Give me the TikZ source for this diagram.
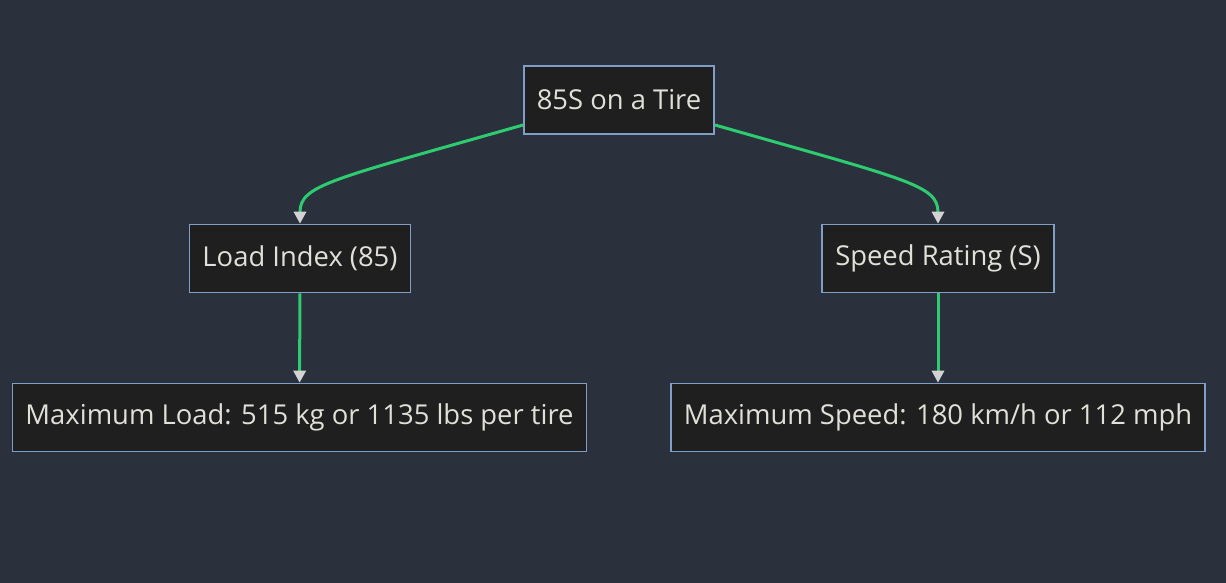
\documentclass[tikz,border=0pt]{standalone}
\usepackage{fontspec}
\setmainfont{Open Sans}
\usetikzlibrary{arrows.meta}
\definecolor{bgdark}{HTML}{2A303C}
\definecolor{boxfill}{HTML}{1F1F1F}
\definecolor{boxline}{HTML}{7F9FC6}
\definecolor{boxtext}{HTML}{E0DFD8}
\definecolor{linkgreen}{HTML}{2ECC71}
\definecolor{tipgray}{HTML}{D3D3D3}
\tikzset{
  tirebox/.style={draw=boxline, fill=boxfill, text=boxtext, line width=0.8pt,
    minimum height=34pt, inner xsep=6.5pt, font=\fontsize{13.7}{16}\selectfont},
  tirelink/.style={draw=linkgreen, line width=1.5pt,
    -{Triangle[length=6pt,width=6pt,color=tipgray]}}
}
\begin{document}
\begin{tikzpicture}[x=0.5pt,y=-0.5pt]
            \fill[bgdark] (0,0) rectangle (1226,583);
            \useasboundingbox (0,0) rectangle (1226,583);

            \node[tirebox] (tire) at (619,100) {85S on a Tire};
            \node[tirebox] (load) at (300,258.5) {Load Index (85)};
            \node[tirebox] (speed) at (938,258.5) {Speed Rating (S)};
            \node[tirebox] (maxload) at (299.5,417.5) {Maximum Load: 515 kg or 1135 lbs per tire};
            \node[tirebox] (maxspeed) at (938,417.5) {Maximum Speed: 180 km/h or 112 mph};

            % curved links from the top box
            \draw[tirelink] (tire.west |- 0,125) .. controls (330,180) and (300,185) .. (load.north);
            \draw[tirelink] (tire.east |- 0,125) .. controls (908,180) and (938,185) .. (speed.north);
            % straight links
            \draw[tirelink] (load) -- (maxload);
            \draw[tirelink] (speed) -- (maxspeed);
        \end{tikzpicture}
\end{document}
